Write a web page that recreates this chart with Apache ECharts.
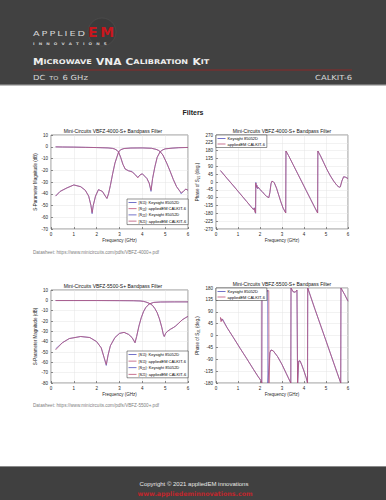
<!DOCTYPE html>
<html>
<head>
<meta charset="utf-8">
<style>
html, body { margin: 0; padding: 0; background: #fff; }
#page { width: 386px; height: 500px; }
</style>
<script src="https://cdn.jsdelivr.net/npm/echarts@6/dist/echarts.min.js"></script>
</head>
<body>
<div id="page"></div>
<script>
// VBFZ-4000-S+ magnitude (dB)
var f4000S11 = [0.2,0.5,1.0,1.5,2.0,2.5,2.7,2.8,2.9,2.96,3.05,3.15,3.25,3.4,3.55,3.7,3.8,3.9,4.0,4.1,4.2,4.3,4.38,4.45,4.55,4.65,4.78,4.9,5.0,5.3,5.6,6.0];
var s11_4000_key = [-0.1,-0.2,-0.3,-0.5,-0.7,-1.0,-1.4,-2.0,-3.2,-4.5,-9,-15,-19,-20.5,-21,-24,-26,-24,-23,-25,-27,-31,-38,-27,-17,-9,-4.2,-2.6,-1.8,-1.2,-0.8,-0.6];
var s11_4000_aem = [-0.1,-0.2,-0.3,-0.5,-0.7,-1.0,-1.4,-2.0,-3.2,-4.5,-9,-15,-19,-20.5,-21.5,-24,-26.5,-24,-23,-25,-27,-31,-37,-27,-17,-9,-4.2,-2.6,-1.8,-1.2,-0.8,-0.6];
var f4000S21 = [0.2,0.4,0.7,1.0,1.3,1.5,1.65,1.75,1.8,1.85,1.95,2.08,2.25,2.38,2.45,2.52,2.6,2.7,2.8,2.9,2.96,3.05,3.2,3.5,4.0,4.4,4.6,4.7,4.78,4.9,5.07,5.2,5.36,5.5,5.65,5.7,5.8,5.9,6.0];
var s21_4000_key = [-42,-38,-35,-32.5,-34,-37,-42,-50,-57,-50,-42,-36.5,-38,-42,-44,-40,-33,-23,-14,-8,-4.5,-2.5,-1.5,-1.1,-1.0,-1.3,-2.2,-3.0,-4.2,-7,-14,-20,-28,-34,-38,-40,-38,-36,-37];
var s21_4000_aem = [-42,-38,-35,-32.5,-34,-37,-42,-50,-56,-50,-42,-36.5,-38,-42,-44,-40,-33,-23,-14,-8,-4.5,-2.5,-1.5,-1.1,-1.0,-1.3,-2.2,-3.0,-4.2,-7,-14,-20,-28,-34,-38,-39,-38,-36,-37];

// VBFZ-4000-S+ phase of S21 (deg)
var f4000Ph = [0.2,0.5,0.8,1.1,1.4,1.6,1.7,1.74,1.77,1.8,1.81,1.83,1.86,1.89,1.93,1.98,2.1,2.2,2.3,2.4,2.45,2.5,2.54,2.6,2.65,2.75,2.85,2.95,3.05,3.17,3.18,3.3,3.5,3.7,3.9,4.1,4.3,4.5,4.62,4.63,4.75,4.9,5.05,5.2,5.35,5.5,5.6,5.65,5.72,5.8,5.88,6.0];
var ph4000_key = [66,21,-23,-68,-113,-143,-158,-148,-168,-180,-2,-32,-18,-38,-30,-42,-55,-70,-83,-90,-60,-10,4,2,-5,-35,-75,-115,-150,-178,178,151,101,51,1,-49,-99,-149,-178,178,150,110,70,35,5,-20,-30,-28,5,30,28,20];
var ph4000_aem = [66,21,-23,-68,-113,-143,-158,-150,-172,-178,-6,-28,-22,-36,-32,-40,-55,-70,-83,-90,-60,-10,4,2,-5,-35,-75,-115,-150,-178,178,151,101,51,1,-49,-99,-149,-178,178,150,110,70,35,5,-20,-30,-28,5,30,28,20];

// VBFZ-5500-S+ magnitude (dB)
var f5500S11 = [0.2,1.0,2.0,3.0,3.6,3.9,4.05,4.15,4.25,4.35,4.45,4.55,4.65,4.75,4.85,4.92,4.96,5.02,5.1,5.23,5.35,5.45,5.6,5.74,5.88,6.0];
var s11_5500 = [-0.2,-0.2,-0.2,-0.3,-0.4,-0.6,-1.0,-1.6,-2.4,-3.4,-5,-8,-12,-18,-26,-33,-35,-32,-30,-28,-26.5,-25,-22,-19,-17,-15.5];
var f5500S21 = [0.2,0.5,0.8,1.3,1.7,2.0,2.2,2.32,2.42,2.5,2.6,2.8,3.0,3.2,3.4,3.55,3.68,3.75,3.85,3.95,4.05,4.15,4.3,4.5,4.8,5.4,6.0];
var s21_5500_key = [-47,-41,-37,-35,-36,-40,-46,-55,-63,-53,-44,-36,-32,-31,-33,-36,-41,-35,-25,-17,-11,-7,-3.5,-2,-1.6,-1.5,-1.5];
var s21_5500_aem = [-48,-41,-37,-35,-36,-40,-46,-55,-62,-53,-44,-36,-32,-31,-33,-36,-41,-35,-25,-17,-11,-7,-3.5,-2,-1.6,-1.5,-1.5];

// VBFZ-5500-S+ phase of S21 (deg)
var f5500PhA = [0.2,0.23,0.26,0.3,0.5,0.8,1.1,1.4,1.7,1.9,2.05,2.08,2.09,2.15,2.25,2.33,2.4,2.41,2.45,2.5,2.6,2.8,3.0,3.2,3.4,3.41,3.5,3.6,3.68,3.71,3.76,3.82,3.9,4.0,4.1,4.16,4.17,4.5,5.0,5.5,5.67,5.68,5.85,6.0];
var ph5500A = [70,52,64,58,30,-9,-49,-88,-128,-154,-172,-180,180,175,172,168,170,-180,-65,-55,-58,-80,-110,-145,-180,180,166,164,172,-180,-97,-96,-112,-135,-160,-180,180,99,-20,-140,-180,180,155,130];
var f5500PhK = [0.2,0.23,0.26,0.3,0.5,0.8,1.1,1.4,1.7,1.9,2.05,2.08,2.09,2.15,2.25,2.3,2.35,2.36,2.45,2.5,2.6,2.8,3.0,3.2,3.4,3.41,3.5,3.6,3.68,3.71,3.76,3.82,3.9,4.0,4.1,4.16,4.17,4.5,5.0,5.5,5.67,5.68,5.85,6.0];
var ph5500K = [66,60,56,62,30,-9,-49,-88,-128,-154,-172,-180,180,176,170,166,172,-180,-65,-55,-58,-80,-110,-145,-180,180,166,164,172,-180,-97,-96,-112,-135,-160,-180,180,99,-20,-140,-180,180,155,130];

var magNames = ['|S11|: Keysight 85052D', '|S11|: appliedEM CALKIT-6', '|S21|: Keysight 85052D', '|S21|: appliedEM CALKIT-6'];
var phNames = ['Keysight 85052D', 'appliedEM CALKIT-6'];
var titles = ['Mini-Circuits VBFZ-4000-S+ Bandpass Filter', 'Mini-Circuits VBFZ-4000-S+ Bandpass Filter',
              'Mini-Circuits VBFZ-5500-S+ Bandpass Filter', 'Mini-Circuits VBFZ-5500-S+ Bandpass Filter'];

var FONT = '"Liberation Sans", Arial, sans-serif';
var HFONT = '"DejaVu Sans", sans-serif';
var BLUE = '#5050bc', RED = '#bc5074', INK = '#262626';

function pts(xs, ys) {
	return xs.map(function (x, i) { return [x, ys[i]]; });
}

function xAx(i, gap) {
	return {
		type: 'value', gridIndex: i, min: 0, max: 6, interval: 1,
		name: 'Frequency (GHz)', nameLocation: 'middle', nameGap: gap,
		nameTextStyle: { fontSize: 4.5, color: INK, fontFamily: FONT },
		axisLine: { show: false, onZero: false },
		axisTick: { inside: true, length: 2, lineStyle: { color: INK, width: 0.5 } },
		axisLabel: { fontSize: 4.5, color: INK, margin: 3, fontFamily: FONT },
		splitLine: { lineStyle: { color: '#e4e4e4', width: 0.5 } }
	};
}

function yAx(i, min, max, step, name, gap) {
	return {
		type: 'value', gridIndex: i, min: min, max: max, interval: step,
		name: name, nameLocation: 'middle', nameGap: gap,
		nameTextStyle: { fontSize: 4.5, color: INK, fontFamily: FONT,
			rich: { sub: { fontSize: 3.3, verticalAlign: 'bottom', color: INK, fontFamily: FONT } } },
		axisLine: { show: false, onZero: false },
		axisTick: { inside: true, length: 2, lineStyle: { color: INK, width: 0.5 } },
		axisLabel: { fontSize: 4.5, color: INK, margin: 3, fontFamily: FONT },
		splitLine: { lineStyle: { color: '#e4e4e4', width: 0.5 } }
	};
}

function line(name, gi, data, color, z) {
	return {
		name: name, type: 'line', xAxisIndex: gi, yAxisIndex: gi,
		data: data, symbol: 'none', z: z, silent: true,
		lineStyle: { color: color, width: 0.7 },
		itemStyle: { color: color }
	};
}

function legendAt(names, left, top, gap) {
	return {
		data: names, left: left, top: top, orient: 'vertical',
		selectedMode: false, icon: 'rect', itemWidth: 8, itemHeight: 0.8, itemGap: gap,
		padding: [1.5, 2, 1.5, 1.5], backgroundColor: '#fff',
		borderColor: INK, borderWidth: 0.5, borderRadius: 0,
		formatter: function (n) { return n.replace(/S(\d\d)/, 'S{sub|$1}'); },
		textStyle: { fontSize: 4, color: '#000', fontFamily: FONT, padding: [0, 0, 0, -3],
			rich: { sub: { fontSize: 3, verticalAlign: 'bottom', color: '#000', fontFamily: FONT } } }
	};
}

function txt(x, y, text, font, fill, align, extra) {
	var el = {
		type: 'text', x: x, y: y, silent: true,
		style: { text: text, font: font, fill: fill,
			align: align || 'left', textAlign: align || 'left',
			verticalAlign: 'middle', textVerticalAlign: 'middle' }
	};
	if (extra) { for (var k in extra) el[k] = extra[k]; }
	return el;
}

var titleXs = [113, 282, 113, 282];
var titleYs = [131, 131, 286, 284];

var graphics = [
	{ type: 'rect', shape: { x: 0, y: 0, width: 386, height: 85 }, style: { fill: '#414141' }, silent: true },
	{ type: 'rect', shape: { x: 0, y: 84.5, width: 386, height: 1.2 }, style: { fill: '#a8a8a8' }, silent: true },
	{ type: 'circle', shape: { cx: 102, cy: 32, r: 14 }, style: { fill: '#3b3b3b', stroke: '#555', lineWidth: 0.5 }, silent: true },
	txt(33, 33, 'A\u2009P\u2009P\u2009L\u2009I\u2009E\u2009D', '7.5px ' + HFONT, '#d6d6d6', 'left', { scaleX: 1.3 }),
	txt(88, 32, 'E\u2009M', 'bold 14px ' + HFONT, '#c8161d', 'left'),
	txt(33, 43.5, 'I\u2003N\u2003N\u2003O\u2003V\u2003A\u2003T\u2003I\u2003O\u2003N\u2003S', 'bold 3.6px ' + HFONT, '#cfcfcf', 'left', { scaleX: 1.15 }),
	{
		type: 'text', x: 33, y: 62, silent: true, scaleX: 1.25,
		style: {
			text: '{b|M}{s|ICROWAVE} {b|VNA} {b|C}{s|ALIBRATION} {b|K}{s|IT}',
			verticalAlign: 'middle', textVerticalAlign: 'middle',
			rich: {
				b: { fontSize: 8.5, fontWeight: 'bold', fontFamily: HFONT, fill: '#eeeeee', color: '#eeeeee' },
				s: { fontSize: 6.5, fontWeight: 'bold', fontFamily: HFONT, fill: '#eeeeee', color: '#eeeeee' }
			}
		}
	},
	{ type: 'rect', shape: { x: 33, y: 69.6, width: 319, height: 0.8 }, style: { fill: '#8c2828' }, silent: true },
	{
		type: 'text', x: 33, y: 78, silent: true, scaleX: 1.2,
		style: {
			text: '{b|DC} {s|TO} {b|6 GH}{s|Z}',
			verticalAlign: 'middle', textVerticalAlign: 'middle',
			rich: {
				b: { fontSize: 7, fontFamily: HFONT, fill: '#d8d8d8', color: '#d8d8d8' },
				s: { fontSize: 5.5, fontFamily: HFONT, fill: '#d8d8d8', color: '#d8d8d8' }
			}
		}
	},
	txt(352, 78, 'CALKIT-6', '7px ' + HFONT, '#d8d8d8', 'right', { scaleX: 1.2 }),
	txt(193, 112, 'Filters', 'bold 7px ' + FONT, '#222222', 'center'),
	txt(33, 252, 'Datasheet: https://www.minicircuits.com/pdfs/VBFZ-4000+.pdf', '4.6px ' + FONT, '#808080', 'left'),
	txt(33, 405, 'Datasheet: https://www.minicircuits.com/pdfs/VBFZ-5500+.pdf', '4.6px ' + FONT, '#808080', 'left'),
	{ type: 'rect', shape: { x: 0, y: 466, width: 386, height: 34 }, style: { fill: '#404040' }, silent: true },
	{ type: 'rect', shape: { x: 0, y: 466, width: 386, height: 1 }, style: { fill: '#8a8a8a' }, silent: true },
	txt(194, 484, 'Copyright \u00a9 2021 appliedEM innovations', '6px ' + FONT, '#e8e8e8', 'center'),
	txt(195, 493, 'www.appliedeminnovations.com', 'bold 6.3px ' + HFONT, '#c1272d', 'center')
];

titles.forEach(function (t, i) {
	graphics.push(txt(titleXs[i], titleYs[i], t, '5px ' + FONT, '#111', 'center'));
});

var gridDefs = [
	{ left: 51, top: 135, width: 137, height: 94 },
	{ left: 216, top: 135, width: 132, height: 94 },
	{ left: 51, top: 290, width: 137, height: 93 },
	{ left: 216, top: 288, width: 132, height: 95 }
];

var option = {
	animation: false,
	backgroundColor: '#fff',
	grid: gridDefs.map(function (g) {
		return { left: g.left, top: g.top, width: g.width, height: g.height,
			show: true, borderColor: INK, borderWidth: 0.5, backgroundColor: '#fff' };
	}),
	xAxis: [xAx(0, 8), xAx(1, 8), xAx(2, 7), xAx(3, 7)],
	yAxis: [
		yAx(0, -70, 10, 10, 'S-Parameter Magnitude (dB)', 8.5),
		yAx(1, -270, 270, 45, 'Phase of S{sub|21} (deg.)', 13.5),
		yAx(2, -80, 10, 10, 'S-Parameter Magnitude (dB)', 8.5),
		yAx(3, -180, 180, 45, 'Phase of S{sub|21} (deg.)', 13.5)
	],
	legend: [
		legendAt(magNames, 127, 199, 2.2),
		legendAt(phNames, 216, 135, 1.5),
		legendAt(magNames, 127, 351, 2.6),
		legendAt(phNames, 216, 288, 1.5)
	],
	graphic: { elements: graphics },
	series: [
		line(magNames[0], 0, pts(f4000S11, s11_4000_key), BLUE, 2),
		line(magNames[1], 0, pts(f4000S11, s11_4000_aem), RED, 3),
		line(magNames[2], 0, pts(f4000S21, s21_4000_key), BLUE, 2),
		line(magNames[3], 0, pts(f4000S21, s21_4000_aem), RED, 3),
		line(phNames[0], 1, pts(f4000Ph, ph4000_key), BLUE, 2),
		line(phNames[1], 1, pts(f4000Ph, ph4000_aem), RED, 3),
		line(magNames[0], 2, pts(f5500S11, s11_5500), BLUE, 2),
		line(magNames[1], 2, pts(f5500S11, s11_5500), RED, 3),
		line(magNames[2], 2, pts(f5500S21, s21_5500_key), BLUE, 2),
		line(magNames[3], 2, pts(f5500S21, s21_5500_aem), RED, 3),
		line(phNames[0], 3, pts(f5500PhK, ph5500K), BLUE, 2),
		line(phNames[1], 3, pts(f5500PhA, ph5500A), RED, 3)
	]
};

var chart = echarts.init(document.getElementById('page'), null, { renderer: 'svg' });
chart.setOption(option);
</script>
</body>
</html>
